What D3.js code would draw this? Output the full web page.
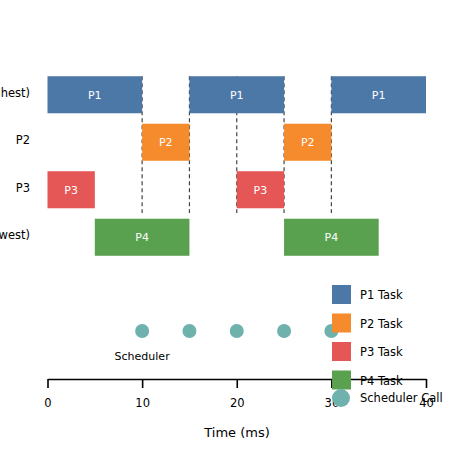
<!DOCTYPE html>
<html><head><meta charset="utf-8">
<script src="https://cdn.jsdelivr.net/npm/d3@7"></script>
<style>body{margin:0;background:#fff}svg{font-family:"DejaVu Sans",sans-serif}</style>
</head><body><div id="chart"></div>
<script>
const tasks = ["P1", "P2", "P3", "P4"];
const rowLabels = ["P1 (Highest)", "P2", "P3", "P4 (Lowest)"];
const colors = ["#4c78a8", "#f58b2c", "#e45756", "#59a14f"];
const segments = [
  { task: "P1", start: 0, end: 10 }, { task: "P1", start: 15, end: 25 }, { task: "P1", start: 30, end: 40 },
  { task: "P2", start: 10, end: 15 }, { task: "P2", start: 25, end: 30 },
  { task: "P3", start: 0, end: 5 }, { task: "P3", start: 20, end: 25 },
  { task: "P4", start: 5, end: 15 }, { task: "P4", start: 25, end: 35 }
];
const schedulerCalls = [10, 15, 20, 25, 30];
const ticks = [0, 10, 20, 30, 40];

const svg = d3.select("#chart").append("svg").attr("width", 474).attr("height", 474);
const x = d3.scaleLinear().domain([0, 40]).range([47.5, 426]);
const y = d3.scaleBand().domain(tasks).range([71, 261]).paddingInner(0.22).paddingOuter(0.11);
const color = d3.scaleOrdinal().domain(tasks).range(colors);

// dashed scheduler lines
svg.append("g").selectAll("line").data(schedulerCalls).join("line")
  .attr("x1", d => x(d)).attr("x2", d => x(d))
  .attr("y1", y("P1")).attr("y2", 213)
  .attr("stroke", "#444").attr("stroke-width", 1.2).attr("stroke-dasharray", "4,3");

const bars = svg.append("g").selectAll("g").data(segments).join("g");
bars.append("rect")
  .attr("x", d => x(d.start)).attr("width", d => x(d.end) - x(d.start))
  .attr("y", d => y(d.task)).attr("height", y.bandwidth())
  .attr("fill", d => color(d.task));
bars.append("text")
  .attr("x", d => (x(d.start) + x(d.end)) / 2).attr("y", d => y(d.task) + y.bandwidth() / 2)
  .attr("dy", "0.35em").attr("text-anchor", "middle").attr("fill", "#fff")
  .style("font-size", "11px").text(d => d.task);

svg.append("g").selectAll("text").data(tasks).join("text")
  .attr("x", 30).attr("y", d => y(d) + y.bandwidth() / 2 - 2).attr("dy", "0.35em")
  .attr("text-anchor", "end").style("font-size", "11.5px")
  .text((d, i) => rowLabels[i]);

// scheduler calls
svg.append("g").selectAll("circle").data(schedulerCalls).join("circle")
  .attr("cx", d => x(d)).attr("cy", 331).attr("r", 7).attr("fill", "#6fb1ad");
svg.append("text").attr("x", x(10)).attr("y", 360).attr("text-anchor", "middle")
  .style("font-size", "11px").text("Scheduler");

// axis
const axis = svg.append("g").attr("transform", "translate(0,379)")
  .call(d3.axisBottom(x).tickValues(ticks).tickSize(9).tickPadding(11).tickSizeOuter(0));
axis.select(".domain").attr("stroke-width", 1.6);
axis.selectAll(".tick line").attr("stroke-width", 1.6);
axis.selectAll("text").style("font-size", "11.5px").style("font-family", "DejaVu Sans");
svg.append("text").attr("x", 237).attr("y", 437).attr("text-anchor", "middle")
  .style("font-size", "13px").text("Time (ms)");

// legend
const legend = svg.append("g");
tasks.forEach((t, i) => {
  const ly = 285 + i * 28.5;
  legend.append("rect").attr("x", 332).attr("y", ly).attr("width", 19).attr("height", 19).attr("fill", color(t));
  legend.append("text").attr("x", 360).attr("y", ly + 10).attr("dy", "0.35em").style("font-size", "11.5px").text(t + " Task");
});
legend.append("circle").attr("cx", 341).attr("cy", 398).attr("r", 9).attr("fill", "#6fb1ad");
legend.append("text").attr("x", 360).attr("y", 398).attr("dy", "0.35em").style("font-size", "11.5px").text("Scheduler Call");
</script></body></html>
